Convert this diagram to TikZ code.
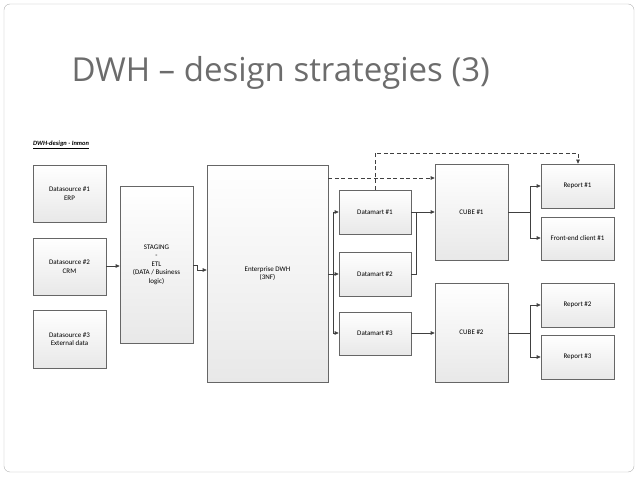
\documentclass[tikz,border=0pt]{standalone}
\usepackage{fontspec}
\setmainfont{Carlito}
\newfontfamily\titlefont{Open Sans}
\usetikzlibrary{arrows.meta,shadows}
\begin{document}
\begin{tikzpicture}[x=1pt,y=-1pt,
  box/.style={draw=gray!80!black,line width=0.6pt,top color=white,bottom color=gray!18,
    drop shadow={shadow xshift=1pt,shadow yshift=-1pt,opacity=0.3},
    align=center,font=\fontsize{7}{8.5}\selectfont,inner sep=1pt},
  con/.style={draw=black!75,line width=0.6pt,-{Triangle[length=4pt,width=3.5pt]}},
  dcon/.style={con,dashed,dash pattern=on 4pt off 2.5pt}]
\useasboundingbox (0,0) rectangle (638,478);
\draw[gray!60,rounded corners=6pt] (4,4) rectangle (634,472);
\node[anchor=west,text=gray!85!black,font=\titlefont\fontsize{33}{36}\selectfont] (title) at (68,73) {DWH – design strategies (3)};
\node[anchor=west,font=\bfseries\itshape\fontsize{6.5}{7}\selectfont,inner sep=0] (lbl) at (33,145) {\underline{DWH-design - Inmon}};
\newcommand\bx[6]{\node[box,minimum width=#4-#2,minimum height=#5-#3] (#1) at ({(#2+#4)/2},{(#3+#5)/2}) {#6};}
\bx{ds1}{33}{165}{106}{222}{Datasource \#1\\ERP}
\bx{ds2}{33}{238}{106}{295}{Datasource \#2\\CRM}
\bx{ds3}{33}{310}{106}{368}{Datasource \#3\\External data}
\bx{stg}{120}{186}{193}{343}{STAGING\\-\\ETL\\(DATA / Business\\logic)}
\bx{edw}{207}{165}{328}{382}{Enterprise DWH\\(3NF)}
\bx{dm1}{339}{190}{411}{234}{Datamart \#1}
\bx{dm2}{339}{252}{411}{296}{Datamart \#2}
\bx{dm3}{339}{312}{411}{355}{Datamart \#3}
\bx{cb1}{435}{164}{508}{260}{CUBE \#1}
\bx{cb2}{435}{283}{508}{382}{CUBE \#2}
\bx{r1}{541}{164}{614}{208}{Report \#1}
\bx{fe}{541}{217}{614}{260}{Front-end client \#1}
\bx{r2}{541}{283}{614}{327}{Report \#2}
\bx{r3}{541}{335}{614}{379}{Report \#3}
\draw[con] (ds2.east |- 0,266) -- (stg.west |- 0,266);
\draw[con] (stg.east |- 0,265) -- (197,265) -- (197,270) -- (edw.west |- 0,270);
\draw[draw=black!75,line width=0.6pt] (333,212) -- (333,333);
\draw[con] (333,212) -- (dm1.west |- 0,212);
\draw[con] (edw.east |- 0,274) -- (dm2.west |- 0,274);
\draw[con] (333,333) -- (dm3.west |- 0,333);
\draw[dcon] (edw.east |- 0,178) -- (cb1.west |- 0,178);
\draw[dcon] (dm1.north -| 375,0) -- (375,153) -- (578,153) -- (r1.north -| 578,0);
\draw[con] (dm1.east |- 0,212) -- (cb1.west |- 0,212);
\draw[draw=black!75,line width=0.6pt] (dm2.east |- 0,274) -- (416,274) -- (416,212);
\draw[draw=black!75,line width=0.6pt] (cb1.east |- 0,212) -- (530,212);
\draw[con] (530,212) |- (r1.west |- 0,186);
\draw[con] (530,212) |- (fe.west |- 0,238);
\draw[con] (dm3.east |- 0,333) -- (cb2.west |- 0,333);
\draw[draw=black!75,line width=0.6pt] (cb2.east |- 0,333) -- (530,333);
\draw[con] (530,333) |- (r2.west |- 0,305);
\draw[con] (530,333) |- (r3.west |- 0,357);
\end{tikzpicture}
\end{document}
